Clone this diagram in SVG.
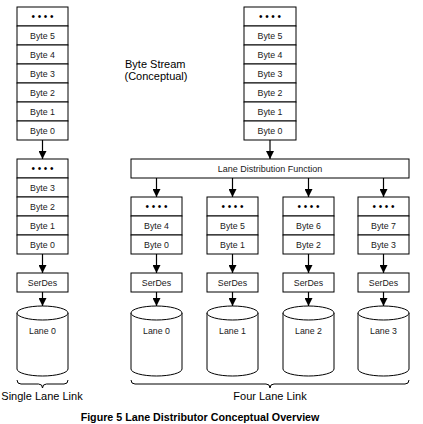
<svg xmlns="http://www.w3.org/2000/svg" width="423" height="424" viewBox="0 0 423 424">
<defs>
<marker id="ah" viewBox="0 0 8 8" refX="8" refY="4" markerWidth="8" markerHeight="8" markerUnits="userSpaceOnUse" orient="auto">
<path d="M0,0 L8,4 L0,8 Z" fill="#000"/>
</marker>
</defs>
<style>
rect.b{fill:#fff;stroke:#000;stroke-width:1}
.t{font-family:"Liberation Sans",Arial,sans-serif;font-size:8.8px;fill:#1a1a1a;text-anchor:middle}
.d{font-family:"Liberation Sans",Arial,sans-serif;font-size:10px;fill:#000;text-anchor:middle;letter-spacing:2.6px}
.l{font-family:"Liberation Sans",Arial,sans-serif;font-size:11px;fill:#000;text-anchor:middle}
.cap{font-family:"Liberation Sans",Arial,sans-serif;font-size:10.7px;font-weight:bold;fill:#000;text-anchor:middle}
.cy{fill:#fff;stroke:#000;stroke-width:1}
.c line{stroke:#000;stroke-width:1.2;marker-end:url(#ah)}
.br{fill:none;stroke:#000;stroke-width:1}
</style>
<rect width="423" height="424" fill="#fff"/>

<g id="stack-single-src">
<rect class="b" x="17" y="7" width="51" height="19"/><text class="d" x="43.8" y="20">••••</text>
<rect class="b" x="17" y="26" width="51" height="19"/><text class="t" x="42.5" y="38.5">Byte 5</text>
<rect class="b" x="17" y="45" width="51" height="19"/><text class="t" x="42.5" y="57.5">Byte 4</text>
<rect class="b" x="17" y="64" width="51" height="19"/><text class="t" x="42.5" y="76.5">Byte 3</text>
<rect class="b" x="17" y="83" width="51" height="19"/><text class="t" x="42.5" y="95.5">Byte 2</text>
<rect class="b" x="17" y="102" width="51" height="19"/><text class="t" x="42.5" y="114.5">Byte 1</text>
<rect class="b" x="17" y="121" width="51" height="19"/><text class="t" x="42.5" y="133.5">Byte 0</text>
</g>

<g id="stack-single-lane">
<rect class="b" x="17" y="159" width="51" height="19"/><text class="d" x="43.8" y="172">••••</text>
<rect class="b" x="17" y="178" width="51" height="19"/><text class="t" x="42.5" y="190.5">Byte 3</text>
<rect class="b" x="17" y="197" width="51" height="19"/><text class="t" x="42.5" y="209.5">Byte 2</text>
<rect class="b" x="17" y="216" width="51" height="19"/><text class="t" x="42.5" y="228.5">Byte 1</text>
<rect class="b" x="17" y="235" width="51" height="19"/><text class="t" x="42.5" y="247.5">Byte 0</text>
</g>

<g id="serdes-single">
<rect class="b" x="17" y="273" width="51" height="19"/><text class="t" x="42.5" y="285.5">SerDes</text>
</g>

<g id="lane-single">
<path class="cy" d="M17,313 L17,369 A25.5,7 0 0 0 68,369 L68,313"/>
<ellipse class="cy" cx="42.5" cy="313" rx="25.5" ry="7"/>
<text class="t" x="42.5" y="333.5">Lane 0</text>
</g>

<text class="l" x="125" y="68" style="text-anchor:start">Byte Stream</text>
<text class="l" x="156" y="79.5">(Conceptual)</text>

<g id="stack-four-src">
<rect class="b" x="244" y="7" width="52" height="19"/><text class="d" x="271.3" y="20">••••</text>
<rect class="b" x="244" y="26" width="52" height="19"/><text class="t" x="270" y="38.5">Byte 5</text>
<rect class="b" x="244" y="45" width="52" height="19"/><text class="t" x="270" y="57.5">Byte 4</text>
<rect class="b" x="244" y="64" width="52" height="19"/><text class="t" x="270" y="76.5">Byte 3</text>
<rect class="b" x="244" y="83" width="52" height="19"/><text class="t" x="270" y="95.5">Byte 2</text>
<rect class="b" x="244" y="102" width="52" height="19"/><text class="t" x="270" y="114.5">Byte 1</text>
<rect class="b" x="244" y="121" width="52" height="19"/><text class="t" x="270" y="133.5">Byte 0</text>
</g>

<g id="ldf">
<rect class="b" x="131" y="159" width="278" height="19"/>
<text class="t" x="270" y="171.5" style="font-size:9px">Lane Distribution Function</text>
</g>

<g id="lane0-stack">
<rect class="b" x="131" y="197" width="51" height="19"/><text class="d" x="157.8" y="210">••••</text>
<rect class="b" x="131" y="216" width="51" height="19"/><text class="t" x="156.5" y="228.5">Byte 4</text>
<rect class="b" x="131" y="235" width="51" height="19"/><text class="t" x="156.5" y="247.5">Byte 0</text>
</g>
<g id="lane1-stack">
<rect class="b" x="207" y="197" width="51" height="19"/><text class="d" x="233.8" y="210">••••</text>
<rect class="b" x="207" y="216" width="51" height="19"/><text class="t" x="232.5" y="228.5">Byte 5</text>
<rect class="b" x="207" y="235" width="51" height="19"/><text class="t" x="232.5" y="247.5">Byte 1</text>
</g>
<g id="lane2-stack">
<rect class="b" x="283" y="197" width="51" height="19"/><text class="d" x="309.8" y="210">••••</text>
<rect class="b" x="283" y="216" width="51" height="19"/><text class="t" x="308.5" y="228.5">Byte 6</text>
<rect class="b" x="283" y="235" width="51" height="19"/><text class="t" x="308.5" y="247.5">Byte 2</text>
</g>
<g id="lane3-stack">
<rect class="b" x="358" y="197" width="51" height="19"/><text class="d" x="384.8" y="210">••••</text>
<rect class="b" x="358" y="216" width="51" height="19"/><text class="t" x="383.5" y="228.5">Byte 7</text>
<rect class="b" x="358" y="235" width="51" height="19"/><text class="t" x="383.5" y="247.5">Byte 3</text>
</g>

<g id="serdes0"><rect class="b" x="131" y="273" width="51" height="19"/><text class="t" x="156.5" y="285.5">SerDes</text></g>
<g id="serdes1"><rect class="b" x="207" y="273" width="51" height="19"/><text class="t" x="232.5" y="285.5">SerDes</text></g>
<g id="serdes2"><rect class="b" x="283" y="273" width="51" height="19"/><text class="t" x="308.5" y="285.5">SerDes</text></g>
<g id="serdes3"><rect class="b" x="358" y="273" width="51" height="19"/><text class="t" x="383.5" y="285.5">SerDes</text></g>

<g id="lane0">
<path class="cy" d="M131,313 L131,369 A25.5,7 0 0 0 182,369 L182,313"/>
<ellipse class="cy" cx="156.5" cy="313" rx="25.5" ry="7"/>
<text class="t" x="156.5" y="333.5">Lane 0</text>
</g>
<g id="lane1">
<path class="cy" d="M207,313 L207,369 A25.5,7 0 0 0 258,369 L258,313"/>
<ellipse class="cy" cx="232.5" cy="313" rx="25.5" ry="7"/>
<text class="t" x="232.5" y="333.5">Lane 1</text>
</g>
<g id="lane2">
<path class="cy" d="M283,313 L283,369 A25.5,7 0 0 0 334,369 L334,313"/>
<ellipse class="cy" cx="308.5" cy="313" rx="25.5" ry="7"/>
<text class="t" x="308.5" y="333.5">Lane 2</text>
</g>
<g id="lane3">
<path class="cy" d="M358,313 L358,369 A25.5,7 0 0 0 409,369 L409,313"/>
<ellipse class="cy" cx="383.5" cy="313" rx="25.5" ry="7"/>
<text class="t" x="383.5" y="333.5">Lane 3</text>
</g>

<g class="c" id="connectors">
<line x1="42.5" y1="140" x2="42.5" y2="159"/>
<line x1="42.5" y1="254" x2="42.5" y2="273"/>
<line x1="42.5" y1="292" x2="42.5" y2="306"/>
<line x1="270" y1="140" x2="270" y2="159"/>
<line x1="156.5" y1="178" x2="156.5" y2="197"/>
<line x1="232.5" y1="178" x2="232.5" y2="197"/>
<line x1="308.5" y1="178" x2="308.5" y2="197"/>
<line x1="383.5" y1="178" x2="383.5" y2="197"/>
<line x1="156.5" y1="254" x2="156.5" y2="273"/>
<line x1="232.5" y1="254" x2="232.5" y2="273"/>
<line x1="308.5" y1="254" x2="308.5" y2="273"/>
<line x1="383.5" y1="254" x2="383.5" y2="273"/>
<line x1="156.5" y1="292" x2="156.5" y2="306"/>
<line x1="232.5" y1="292" x2="232.5" y2="306"/>
<line x1="308.5" y1="292" x2="308.5" y2="306"/>
<line x1="383.5" y1="292" x2="383.5" y2="306"/>
</g>

<path class="br" d="M17,380 Q17,384 21,384 L38.5,384 Q42.5,384 42.5,388 Q42.5,384 46.5,384 L64,384 Q68,384 68,380"/>
<text class="l" x="42" y="400">Single Lane Link</text>

<path class="br" d="M131,380 Q131,384 135,384 L266,384 Q270,384 270,388 Q270,384 274,384 L405,384 Q409,384 409,380"/>
<text class="l" x="270" y="400">Four Lane Link</text>

<text class="cap" x="200" y="421">Figure 5 Lane Distributor Conceptual Overview</text>
</svg>
